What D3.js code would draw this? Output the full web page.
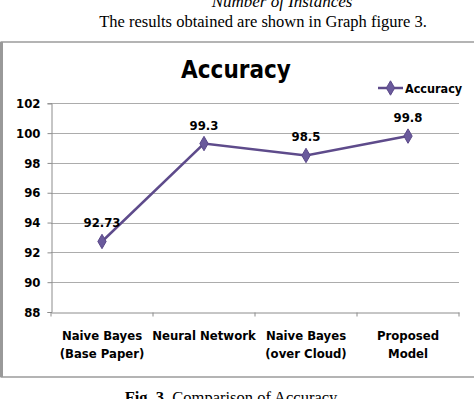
<!DOCTYPE html>
<html>
<head>
<meta charset="UTF-8">
<title>Accuracy</title>
<style>
  body { margin: 0; background: #fff; }
  svg { display: block; }
</style>
</head>
<body>
<div id="chart"></div>
<script src="https://d3js.org/d3.v7.min.js"></script>
<script>
// data
var categories = [["Naive Bayes", "(Base Paper)"], ["Neural Network"], ["Naive Bayes", "(over Cloud)"], ["Proposed", "Model"]];
var accuracy = [92.73, 99.3, 98.5, 99.8];
var yTicks = [88, 90, 92, 94, 96, 98, 100, 102];
var seriesName = "Accuracy";

var width = 474, height = 399;
var chartFont = "'DejaVu Sans Condensed', 'DejaVu Sans', sans-serif";
var serif = "'Liberation Serif', 'DejaVu Serif', serif";
var lineColor = "#5e4b8b";

var svg = d3.select("#chart").append("svg")
    .attr("width", width)
    .attr("height", height);

// surrounding page text
svg.append("text")
    .attr("x", 282).attr("y", 7)
    .attr("text-anchor", "middle")
    .attr("font-family", serif).attr("font-style", "italic").attr("font-size", 17)
    .text("Number of Instances");
svg.append("text")
    .attr("x", 263).attr("y", 27)
    .attr("text-anchor", "middle")
    .attr("font-family", serif).attr("font-size", 16.5)
    .text("The results obtained are shown in Graph figure 3.");

var cap = svg.append("text")
    .attr("x", 231).attr("y", 403)
    .attr("text-anchor", "middle")
    .attr("font-family", serif).attr("font-size", 16.5);
cap.append("tspan").attr("font-weight", "bold").text("Fig. 3");
cap.append("tspan").text(". Comparison of Accuracy");

// chart frame (cropped on the right)
svg.append("rect")
    .attr("x", 1.5).attr("y", 42)
    .attr("width", 490).attr("height", 335)
    .attr("fill", "#fff")
    .attr("stroke", "#b4b4b4")
    .attr("stroke-width", 2);
svg.append("line")
    .attr("x1", 1.5).attr("x2", 1.5).attr("y1", 42).attr("y2", 377)
    .attr("stroke", "#999").attr("stroke-width", 3);

var x = d3.scaleBand().domain(d3.range(categories.length)).range([51, 459]);
var y = d3.scaleLinear().domain([88, 102]).range([312, 103.3]);

// gridlines
svg.append("g")
    .selectAll("line")
    .data(yTicks.slice(1))
    .enter().append("line")
    .attr("x1", 51).attr("x2", 459)
    .attr("y1", function(d) { return Math.round(y(d)) + 0.5; })
    .attr("y2", function(d) { return Math.round(y(d)) + 0.5; })
    .attr("stroke", "#acacac");

// y axis
var yAxis = svg.append("g")
    .attr("transform", "translate(51.5,0)")
    .call(d3.axisLeft(y).tickValues(yTicks).tickSize(4).tickPadding(7));
yAxis.selectAll("line, path").attr("stroke", "#8c8c8c");
yAxis.selectAll("text")
    .attr("font-family", chartFont).attr("font-weight", "bold").attr("font-size", 13)
    .attr("fill", "#000");

// x axis
var xAxis = svg.append("g")
    .attr("transform", "translate(0,312.5)")
    .call(d3.axisBottom(x).tickSize(0).tickFormat(""));
xAxis.selectAll("path").attr("stroke", "#8c8c8c");
xAxis.selectAll(".tick").remove();
xAxis.selectAll("line.sep")
    .data(d3.range(categories.length + 1))
    .enter().append("line")
    .attr("class", "sep")
    .attr("x1", function(i) { return i < categories.length ? x(i) : x(i - 1) + x.bandwidth(); })
    .attr("x2", function(i) { return i < categories.length ? x(i) : x(i - 1) + x.bandwidth(); })
    .attr("y1", 0).attr("y2", 4)
    .attr("stroke", "#8c8c8c");

var xLabels = svg.append("g").selectAll("text")
    .data(categories)
    .enter().append("text")
    .attr("x", function(d, i) { return x(i) + x.bandwidth() / 2; })
    .attr("y", 340)
    .attr("text-anchor", "middle")
    .attr("font-family", chartFont).attr("font-weight", "bold").attr("font-size", 13);
xLabels.selectAll("tspan")
    .data(function(d) { return d; })
    .enter().append("tspan")
    .attr("x", function() { return d3.select(this.parentNode).attr("x"); })
    .attr("dy", function(d, i) { return i === 0 ? 0 : 18; })
    .text(function(d) { return d; });

// title
svg.append("text")
    .attr("x", 236).attr("y", 78)
    .attr("text-anchor", "middle")
    .attr("font-family", chartFont).attr("font-weight", "bold").attr("font-size", 24)
    .text("Accuracy");

// series line
var line = d3.line()
    .x(function(d, i) { return x(i) + x.bandwidth() / 2; })
    .y(function(d) { return y(d); });

svg.append("path")
    .datum(accuracy)
    .attr("d", line)
    .attr("fill", "none")
    .attr("stroke", lineColor)
    .attr("stroke-width", 2.5);

var diamond = d3.symbol().type(d3.symbolDiamond).size(60);
svg.append("g").selectAll("path")
    .data(accuracy)
    .enter().append("path")
    .attr("d", diamond)
    .attr("transform", function(d, i) { return "translate(" + (x(i) + x.bandwidth() / 2) + "," + y(d) + ")"; })
    .attr("fill", "#6a5a9c")
    .attr("stroke", "#5a4888");

// data labels
svg.append("g").selectAll("text")
    .data(accuracy)
    .enter().append("text")
    .attr("x", function(d, i) { return x(i) + x.bandwidth() / 2; })
    .attr("y", function(d) { return y(d) - 14; })
    .attr("text-anchor", "middle")
    .attr("font-family", chartFont).attr("font-weight", "bold").attr("font-size", 13)
    .text(function(d) { return d; });

// legend
var legend = svg.append("g").attr("transform", "translate(378,88)");
legend.append("line")
    .attr("x1", 0).attr("x2", 25).attr("y1", 0).attr("y2", 0)
    .attr("stroke", lineColor).attr("stroke-width", 2.5);
legend.append("path")
    .attr("d", diamond)
    .attr("transform", "translate(12.5,0)")
    .attr("fill", "#6a5a9c").attr("stroke", "#5a4888");
legend.append("text")
    .attr("x", 27).attr("y", 4.5)
    .attr("font-family", chartFont).attr("font-weight", "bold").attr("font-size", 12.5)
    .text(seriesName);
</script>
</body>
</html>
